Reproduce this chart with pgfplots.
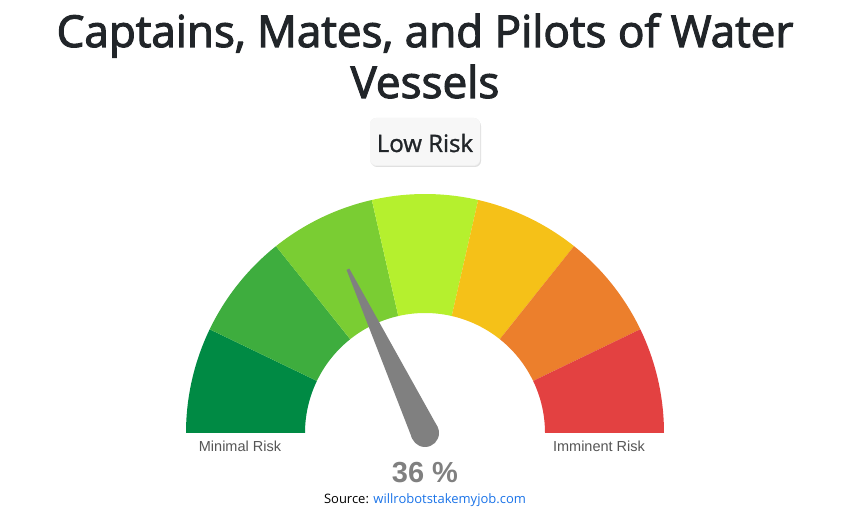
\documentclass[border=0pt]{standalone}
\usepackage{pgfplots}
\pgfplotsset{compat=1.18}
\usepackage{fontspec}
\setmainfont{Open Sans}
\newfontfamily\titlefont{Open Sans}[FakeBold=2.5]
\newfontfamily\boxfont{Open Sans}[FakeBold=1.2]
\newfontfamily\arial{Liberation Sans}

\definecolor{band0}{HTML}{008A44}
\definecolor{band1}{HTML}{3EAD3E}
\definecolor{band2}{HTML}{7ACD33}
\definecolor{band3}{HTML}{B5F02E}
\definecolor{band4}{HTML}{F5C118}
\definecolor{band5}{HTML}{EC7F2C}
\definecolor{band6}{HTML}{E34141}
\definecolor{needle}{HTML}{808080}
\definecolor{titlecol}{HTML}{212529}
\definecolor{labelcol}{HTML}{555555}
\definecolor{linkcol}{HTML}{1A73E8}

% gauge geometry (pixel units) and the value shown
\def\cx{425}\def\cy{86}\def\R{239}\def\r{120}
\def\value{36}

\begin{document}
\begin{tikzpicture}
\useasboundingbox (0,0) rectangle (848bp,519bp);
\begin{axis}[
    anchor=south west, at={(0,0)},
    scale only axis, width=848bp, height=519bp,
    xmin=0, xmax=848, ymin=0, ymax=519,
    hide axis, clip=false,
]
% seven equal risk bands, 0..100 mapped onto 180..0 degrees
\pgfplotsinvokeforeach{0,...,6}{
  \fill[band#1]
    (axis cs:{\cx+\R*cos(180-#1*180/7)},{\cy+\R*sin(180-#1*180/7)})
    arc[start angle={180-#1*180/7}, end angle={180-(#1+1)*180/7}, radius=\R bp]
    -- (axis cs:{\cx+\r*cos(180-(#1+1)*180/7)},{\cy+\r*sin(180-(#1+1)*180/7)})
    arc[start angle={180-(#1+1)*180/7}, end angle={180-#1*180/7}, radius=\r bp]
    -- cycle;
}
% needle
\pgfmathsetmacro\ang{180-\value*1.8}
\fill[needle] (axis cs:\cx,\cy) circle[radius=14bp];
\fill[needle]
  (axis cs:{\cx+14*cos(\ang+90)},{\cy+14*sin(\ang+90)})
  -- (axis cs:{\cx+181*cos(\ang)+1.5*cos(\ang+90)},{\cy+181*sin(\ang)+1.5*sin(\ang+90)})
  -- (axis cs:{\cx+181*cos(\ang)-1.5*cos(\ang+90)},{\cy+181*sin(\ang)-1.5*sin(\ang+90)})
  -- (axis cs:{\cx+14*cos(\ang-90)},{\cy+14*sin(\ang-90)}) -- cycle;

% texts
\node[anchor=base, text=titlecol, font=\titlefont\fontsize{44bp}{50bp}\selectfont]
  at (axis cs:425,472) {Captains, Mates, and Pilots of Water};
\node[anchor=base, text=titlecol, font=\titlefont\fontsize{44bp}{50bp}\selectfont]
  at (axis cs:425,421) {Vessels};
\fill[black!12, rounded corners=6bp] (axis cs:371,352) rectangle (axis cs:481,399);
\fill[black!6, rounded corners=6bp] (axis cs:370,353) rectangle (axis cs:480,401);
\fill[white!97!black, rounded corners=6bp] (axis cs:370,354) rectangle (axis cs:480,401);
\node[anchor=base, text=titlecol, font=\boxfont\fontsize{24bp}{28bp}\selectfont]
  at (axis cs:425,367) {Low Risk};
\node[anchor=base, text=labelcol, font=\arial\fontsize{14.5bp}{17bp}\selectfont]
  at (axis cs:240,67) {Minimal Risk};
\node[anchor=base, text=labelcol, font=\arial\fontsize{14.5bp}{17bp}\selectfont]
  at (axis cs:599,67) {Imminent Risk};
\node[anchor=base, text=needle, font=\arial\bfseries\fontsize{29bp}{34bp}\selectfont]
  at (axis cs:425,36) {\value\ \%};
\node[anchor=base, font=\fontsize{13bp}{16bp}\selectfont]
  at (axis cs:425,15) {Source: \textcolor{linkcol}{willrobotstakemyjob.com}};
\end{axis}
\end{tikzpicture}
\end{document}
